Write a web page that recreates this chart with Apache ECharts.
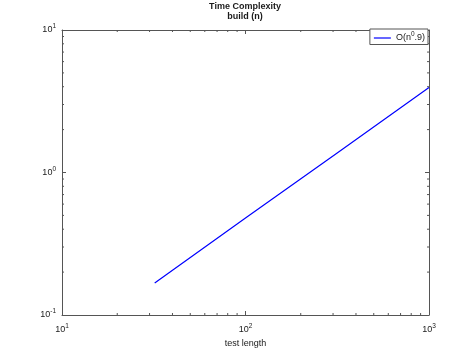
<!DOCTYPE html>
<html><head><meta charset="utf-8">
<script src="https://cdn.jsdelivr.net/npm/echarts@6/dist/echarts.min.js"></script>
<style>html,body{margin:0;padding:0;background:#fff}#c{width:474px;height:355px}</style>
</head><body><div id="c"></div>
<script>
const testLength = [32, 100, 316, 1000];
const timeValues = [0.168, 0.48, 1.37, 3.95];
const xMinorTicks = [20,30,40,50,60,70,80,90,200,300,400,500,600,700,800,900];
const yMinorTicks = [0.2,0.3,0.4,0.5,0.6,0.7,0.8,0.9,2,3,4,5,6,7,8,9];
const X_MIN = 10, X_MAX = 1000, Y_MIN = 0.1, Y_MAX = 10;
const FONT = 'Liberation Sans, Arial, sans-serif';
const TXT = '#1a1a1a';
const AX = '#555';

const chart = echarts.init(document.getElementById('c'));
function powLabel(v){ const e = Math.round(Math.log10(v)); return '10{s|' + e + '}'; }
const rich = { s: { fontSize: 6.5, padding: [0,0,7,0], fontFamily: FONT, color: TXT } };
const axisCommon = {
  type: 'log', logBase: 10,
  axisLine: { show: true, onZero: false, lineStyle: { color: AX, width: 1 } },
  axisTick: { show: true, inside: true, length: 4, lineStyle: { color: AX } },
  splitLine: { show: false },
  minorTick: { show: false },
};
chart.setOption({
  animation: false,
  title: {
    text: 'Time Complexity\nbuild (n)',
    left: 245, top: 1, padding: 0, textAlign: 'center',
    textStyle: { fontFamily: FONT, fontSize: 9, fontWeight: 'bold', color: TXT, lineHeight: 10.5 }
  },
  grid: { left: 62, right: 45, top: 30, bottom: 40, containLabel: false },
  legend: {
    show: true,
    right: 46, top: 29,
    backgroundColor: '#fff',
    borderColor: AX, borderWidth: 1,
    padding: [2, 3, 2, 4],
    icon: 'rect',
    itemWidth: 17, itemHeight: 1.2, itemGap: 3,
    data: ['O(n^0.9)'],
    formatter: function () { return 'O(n{s|0}.9)'; },
    textStyle: { fontFamily: FONT, fontSize: 9, color: TXT, rich: { s: { fontSize: 6.5, padding: [0,0,7,0], fontFamily: FONT, color: TXT } } }
  },
  xAxis: [
    Object.assign({}, axisCommon, {
      position: 'bottom', min: X_MIN, max: X_MAX,
      name: 'test length', nameLocation: 'middle', nameGap: 23,
      nameTextStyle: { fontFamily: FONT, fontSize: 9, color: TXT },
      axisLabel: { show: true, margin: 8, formatter: powLabel, fontFamily: FONT, fontSize: 9, color: TXT, rich: rich }
    }),
    Object.assign({}, axisCommon, {
      position: 'top', min: X_MIN, max: X_MAX, axisLabel: { show: false }
    })
  ],
  yAxis: [
    Object.assign({}, axisCommon, {
      position: 'left', min: Y_MIN, max: Y_MAX,
      axisLabel: { show: true, margin: 6, formatter: powLabel, fontFamily: FONT, fontSize: 9, color: TXT, rich: rich }
    }),
    Object.assign({}, axisCommon, {
      position: 'right', min: Y_MIN, max: Y_MAX, axisLabel: { show: false }
    })
  ],
  series: [
    {
      name: 'O(n^0.9)', type: 'line', xAxisIndex: 0, yAxisIndex: 0,
      data: testLength.map((x, i) => [x, timeValues[i]]),
      symbol: 'none', lineStyle: { color: '#0000ff', width: 1.2 }, itemStyle: { color: '#0000ff' }
    },
    {
      type: 'custom', xAxisIndex: 0, yAxisIndex: 0, silent: true, clip: false,
      data: xMinorTicks.map(v => [v, 1]),
      renderItem: (params, api) => {
        const v = api.value(0);
        const b = api.coord([v, Y_MIN]);
        const t = api.coord([v, Y_MAX]);
        const st = { stroke: AX, lineWidth: 1 };
        return { type: 'group', children: [
          { type: 'line', shape: { x1: b[0], y1: b[1], x2: b[0], y2: b[1] - 2 }, style: st },
          { type: 'line', shape: { x1: t[0], y1: t[1], x2: t[0], y2: t[1] + 2 }, style: st }
        ]};
      }
    },
    {
      type: 'custom', xAxisIndex: 0, yAxisIndex: 0, silent: true, clip: false,
      data: yMinorTicks.map(v => [100, v]),
      renderItem: (params, api) => {
        const v = api.value(1);
        const l = api.coord([X_MIN, v]);
        const r = api.coord([X_MAX, v]);
        const st = { stroke: AX, lineWidth: 1 };
        return { type: 'group', children: [
          { type: 'line', shape: { x1: l[0], y1: l[1], x2: l[0] + 2, y2: l[1] }, style: st },
          { type: 'line', shape: { x1: r[0], y1: r[1], x2: r[0] - 2, y2: r[1] }, style: st }
        ]};
      }
    }
  ]
});
</script></body></html>
